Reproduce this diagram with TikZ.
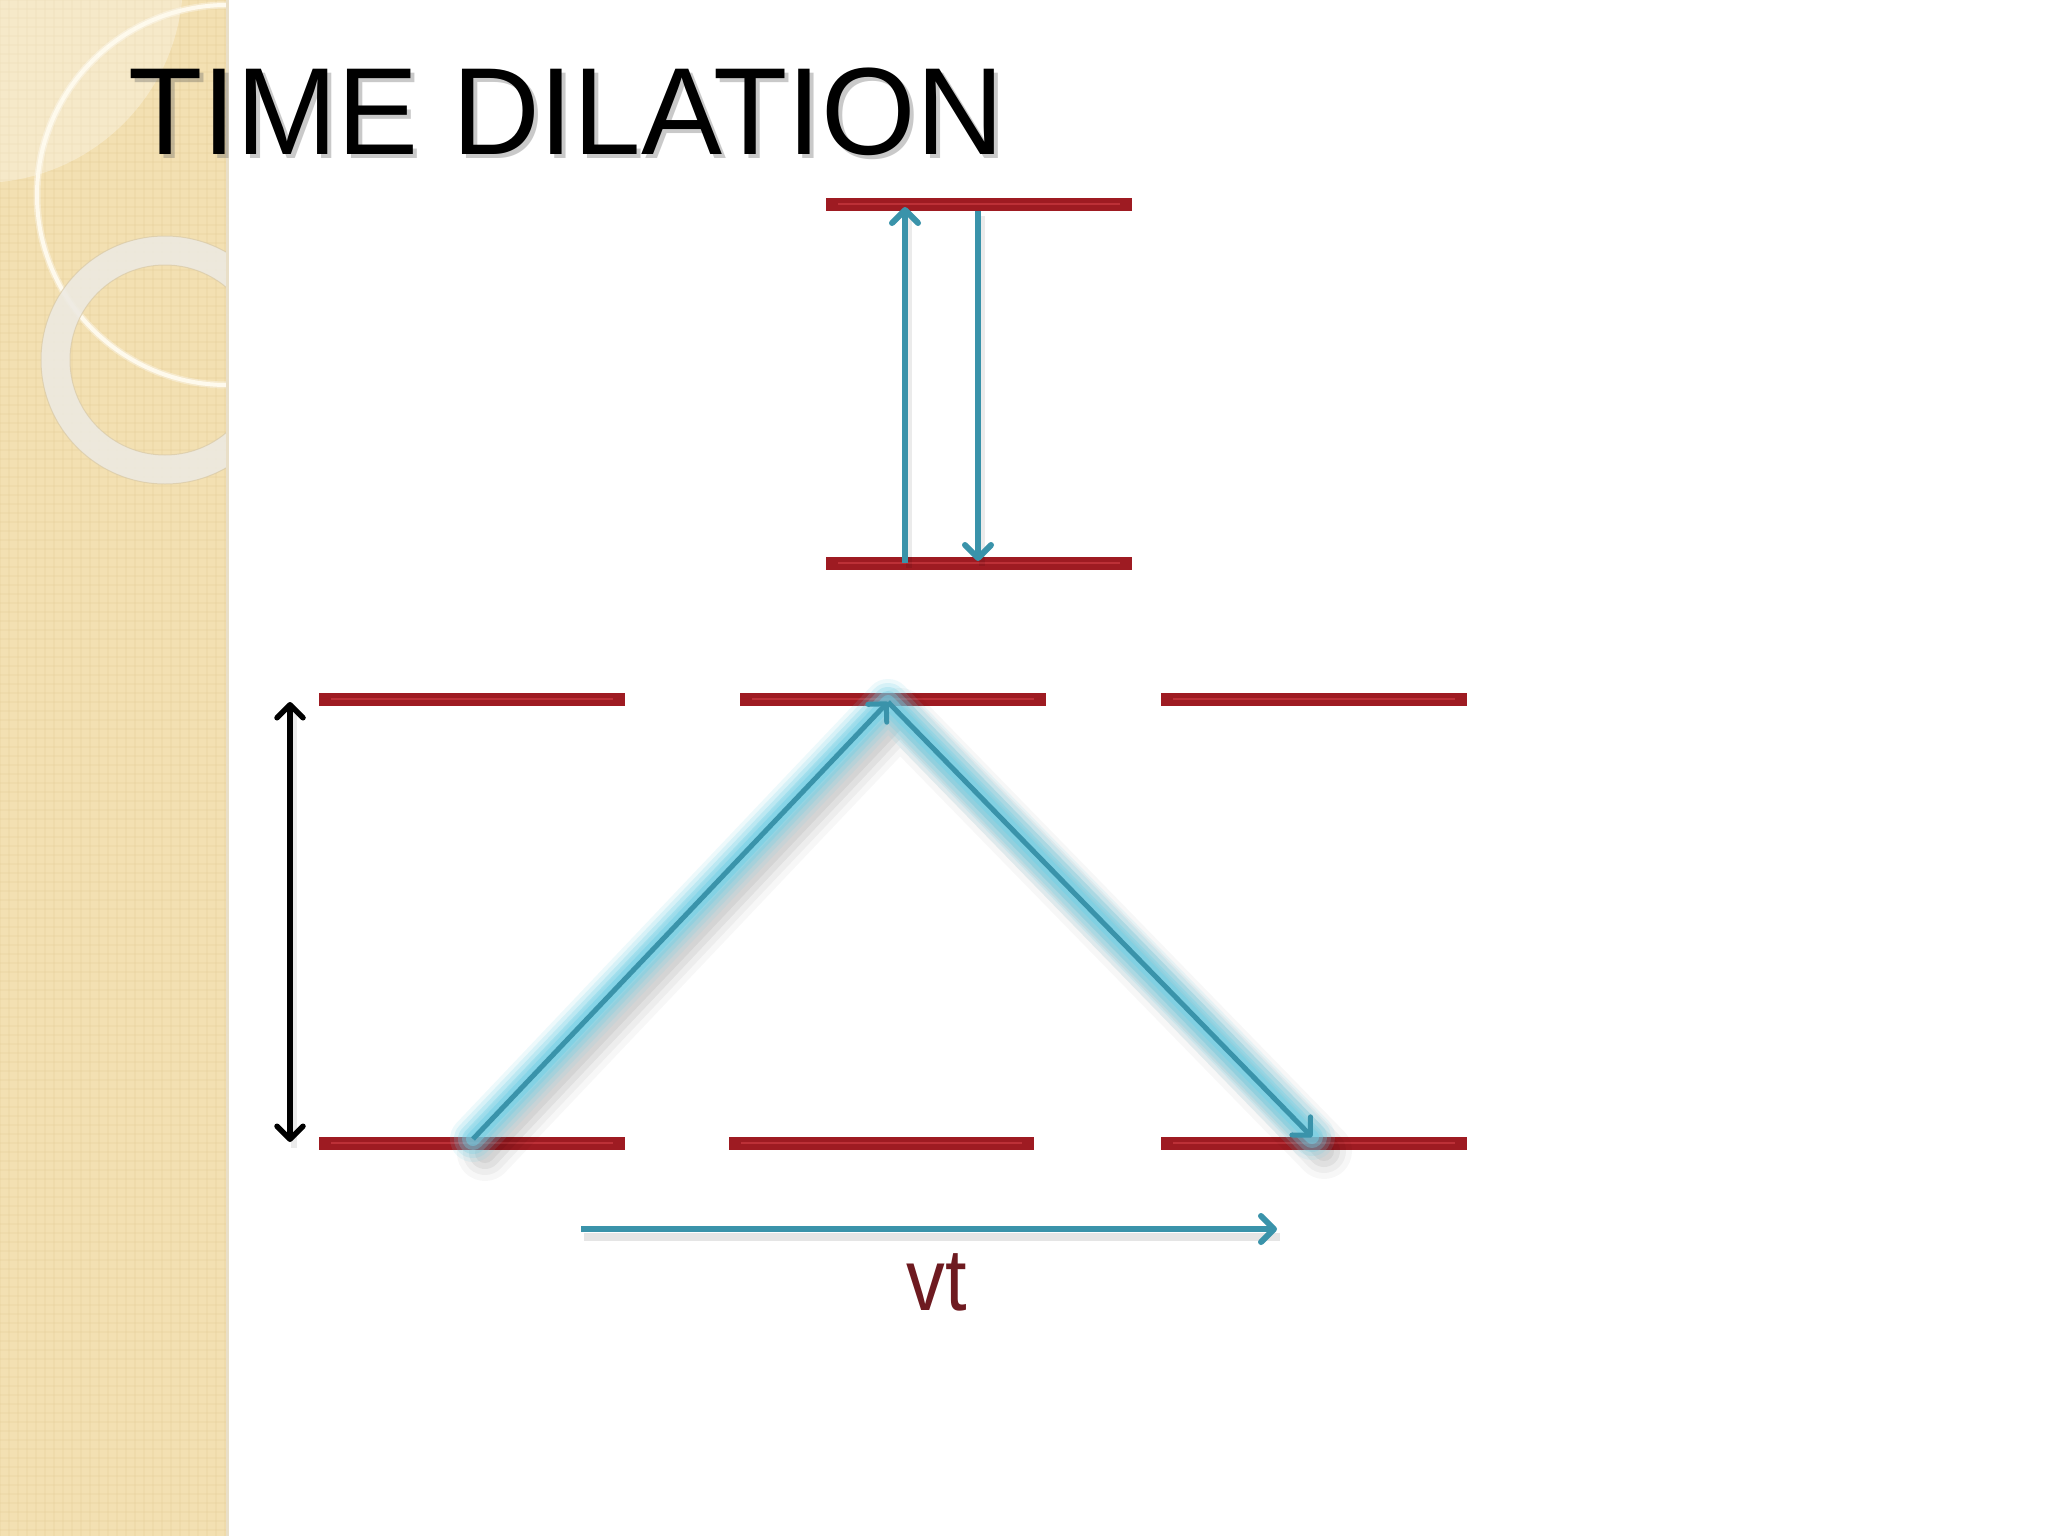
\documentclass[tikz,border=0pt]{standalone}
\usepackage{fontspec}
\setmainfont{Liberation Sans}
\usetikzlibrary{arrows.meta}
\definecolor{sbtan}{HTML}{F3E0B2}
\definecolor{sbgrid}{HTML}{E6D09C}
\definecolor{ringthin}{HTML}{FFFBEF}
\definecolor{ringthick}{HTML}{EDEAE2}
\definecolor{ringedge}{HTML}{D9C9A6}
\definecolor{sbedge}{HTML}{E9DFC8}
\definecolor{mirrorred}{HTML}{9E1B22}
\definecolor{mirrorhi}{HTML}{C93A40}
\definecolor{teal}{HTML}{3A93AA}
\definecolor{glowcyan}{HTML}{72D0E6}
\definecolor{vtred}{HTML}{6E1A20}
\begin{document}
\begin{tikzpicture}[x=1pt,y=-1pt,
  mirror/.style={draw=mirrorred,line width=13pt},
  mirrorhl/.style={draw=mirrorhi,line width=2.5pt,opacity=0.7},
  ray/.style={draw=teal,line width=6pt,-{Straight Barb[length=13pt,width=26pt,line cap=round,line join=round]}},
  thinray/.style={draw=teal,line width=5pt,-{Straight Barb[length=13pt,width=26pt,line cap=round,line join=round]}},
  dimarrow/.style={draw=black,line width=5.5pt,{Straight Barb[length=13pt,width=26pt,line cap=round,line join=round]}-{Straight Barb[length=13pt,width=26pt,line cap=round,line join=round]}},
  shade/.style={draw=black,opacity=0.08},
]
\useasboundingbox (0,0) rectangle (2048,1536);
\fill[white] (0,0) rectangle (2048,1536);

% ---- sidebar ----
\fill[sbtan] (0,0) rectangle (227,1536);
\begin{scope}
\clip (0,0) rectangle (227,1536);
\foreach \x in {0,9,...,227} \draw[sbgrid,line width=1.6pt,opacity=0.3] (\x,0) -- (\x,1536);
\foreach \y in {0,9,...,1536} \draw[sbgrid,line width=1.6pt,opacity=0.3] (0,\y) -- (227,\y);
\fill[white,opacity=0.3] (-20,-20) circle[radius=203];
\draw[white,line width=7pt,opacity=0.35] (227,195) circle[radius=190];
\draw[ringthin,line width=4pt,opacity=0.95] (227,195) circle[radius=190];
\draw[ringthick,line width=29pt,opacity=0.88] (165,360) circle[radius=109.5];
\draw[ringedge,line width=1pt,opacity=0.7] (165,360) circle[radius=124];
\draw[ringedge,line width=1pt,opacity=0.7] (165,360) circle[radius=95];
\end{scope}
\fill[sbedge] (226,0) rectangle (229,1536);

% ---- title ----
\node[anchor=base west,inner sep=0pt,text=black!60,opacity=0.35,xscale=0.98]
  at (132,158) {\fontsize{124}{140}\selectfont TIME DILATION};
\node (title)[anchor=base west,inner sep=0pt,text=black,xscale=0.98]
  at (128,154) {\fontsize{124}{140}\selectfont TIME DILATION};

% ---- coordinates ----
\coordinate (ta1) at (826,204);  \coordinate (ta2) at (1132,204);
\coordinate (tb1) at (826,563);  \coordinate (tb2) at (1132,563);
\coordinate (upS) at (905,563);  \coordinate (upE) at (905,207);
\coordinate (dnS) at (978,211);  \coordinate (dnE) at (978,561);

\coordinate (L1a) at (319,699);  \coordinate (L1b) at (625,699);
\coordinate (L2a) at (740,699);  \coordinate (L2b) at (1046,699);
\coordinate (L3a) at (1161,699); \coordinate (L3b) at (1467,699);
\coordinate (B1a) at (319,1143); \coordinate (B1b) at (625,1143);
\coordinate (B2a) at (729,1143); \coordinate (B2b) at (1034,1143);
\coordinate (B3a) at (1161,1143);\coordinate (B3b) at (1467,1143);

\coordinate (dA) at (290,702);   \coordinate (dB) at (290,1142);
\coordinate (start) at (473,1139);
\coordinate (apex) at (888,702);
\coordinate (finish) at (1312,1137);
\coordinate (vS) at (581,1229);  \coordinate (vE) at (1277,1229);

% ---- mirrors ----
\foreach \a/\b in {ta1/ta2,tb1/tb2,L1a/L1b,L2a/L2b,L3a/L3b,B1a/B1b,B2a/B2b,B3a/B3b}{
  \draw[mirror] (\a) -- (\b);
  \draw[mirrorhl] ([xshift=12pt]\a) -- ([xshift=-12pt]\b);
}

% ---- glow of the slanted light path ----
\begin{scope}[line cap=round,line join=round]
\foreach \w/\o in {56/0.03,44/0.04,32/0.05,20/0.05}
  \draw[black,line width=\w pt,opacity=\o] ([shift={(12,14)}]start) -- ([shift={(12,14)}]apex) -- ([shift={(12,14)}]finish);
\foreach \w/\o in {46/0.12,38/0.18,30/0.26,22/0.36,14/0.5}
  \draw[glowcyan,line width=\w pt,opacity=\o] (start) -- (apex) -- (finish);
\end{scope}

% ---- arrows ----
\draw[shade,line width=6pt] ([shift={(4,5)}]upS) -- ([shift={(4,5)}]upE);
\draw[shade,line width=6pt] ([shift={(4,5)}]dnS) -- ([shift={(4,5)}]dnE);
\draw[shade,line width=6pt] ([shift={(4,6)}]dA) -- ([shift={(4,6)}]dB);
\draw[shade,line width=8pt,opacity=0.1] ([shift={(3,8)}]vS) -- ([shift={(3,8)}]vE);

\draw[ray] (upS) -- (upE);
\draw[ray] (dnS) -- (dnE);
\draw[dimarrow] (dA) -- (dB);
\draw[thinray] (start) -- (apex);
\draw[thinray] (apex) -- (finish);
\draw[ray] (vS) -- (vE);

% ---- label ----
\node (vt)[anchor=base,inner sep=0pt,text=vtred,xscale=0.88] at (937,1310)
  {\fontsize{88}{100}\selectfont vt};
\end{tikzpicture}
\end{document}
